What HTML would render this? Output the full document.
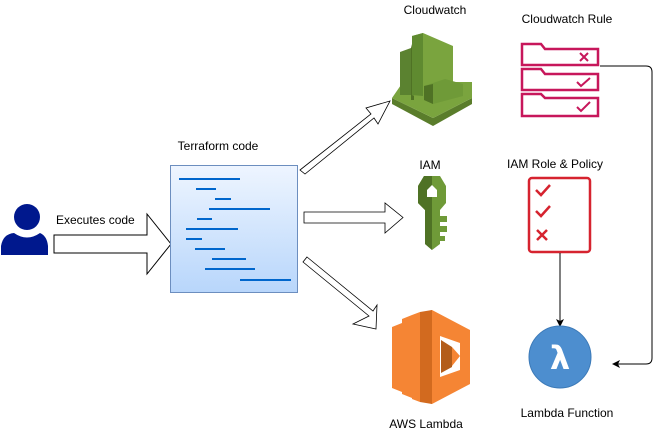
<!DOCTYPE html>
<html><head><style>
body{margin:0;background:#fff;width:659px;height:435px;overflow:hidden}
text{font-family:"Liberation Sans",Arial,sans-serif;font-size:12px;fill:#000}
</style></head><body>
<svg width="659" height="435" viewBox="0 0 659 435" xmlns="http://www.w3.org/2000/svg">
<defs><linearGradient id="tg" x1="0" y1="0" x2="0" y2="1"><stop offset="0" stop-color="#eef5ff"/><stop offset="1" stop-color="#b8d6fb"/></linearGradient></defs>
<text x="435" y="14" text-anchor="middle">Cloudwatch</text>
<text x="567" y="23" text-anchor="middle">Cloudwatch Rule</text>
<text x="218" y="150" text-anchor="middle">Terraform code</text>
<text x="430" y="169" text-anchor="middle">IAM</text>
<text x="555" y="168" text-anchor="middle">IAM Role &amp; Policy</text>
<text x="426" y="428" text-anchor="middle">AWS Lambda</text>
<text x="567" y="417" text-anchor="middle">Lambda Function</text>
<text x="56" y="224">Executes  code</text>
<circle cx="27" cy="217" r="13" fill="#00188d"/>
<path d="M1,255 L1,246 Q3,234 14,233 Q27,242 40,233 Q47,236 48,246 L48,255 Z" fill="#00188d"/>
<path d="M54,235 L147,235 L147,214 L171,244 L147,274 L147,253 L54,253 Z" fill="#fff" stroke="#000" stroke-width="1"/>
<rect x="170.5" y="165.5" width="127" height="127" fill="url(#tg)" stroke="#6c8ebf"/>
<g stroke="#0066cc" stroke-width="2">
<line x1="179" y1="179" x2="240" y2="179"/><line x1="196" y1="189" x2="216" y2="189"/>
<line x1="215" y1="199" x2="231" y2="199"/><line x1="209" y1="209" x2="270" y2="209"/>
<line x1="197" y1="219" x2="212" y2="219"/><line x1="186" y1="229" x2="238" y2="229"/>
<line x1="186" y1="239" x2="202" y2="239"/><line x1="195" y1="249" x2="225" y2="249"/>
<line x1="212" y1="259" x2="246" y2="259"/><line x1="205" y1="269" x2="255" y2="269"/>
<line x1="240" y1="280" x2="291" y2="280"/></g>
<path d="M300,170 L371,114 L366,108 L390,101 L378,124 L374,118 L305,174 Z" fill="#fff" stroke="#000" stroke-width="0.8"/>
<path d="M304,212 L385,212 L385,203 L403,217.5 L385,233 L385,223 L304,223 Z" fill="#fff" stroke="#000" stroke-width="0.8"/>
<path d="M307,257 L373,311 L377,305 L376,329 L353,324 L369,316 L303,262 Z" fill="#fff" stroke="#000" stroke-width="0.8"/>
<g>
<path d="M392,98 L433,118 L472,98 L472,104 L433,126 L392,104 Z" fill="#5a7d2b"/>
<path d="M392,98 L403,82 L472,82 L472,98 L433,118 Z" fill="#7aa43e"/>
<path d="M400,52 L411,48 L411,95 L400,95 Z" fill="#5b8230"/>
<path d="M411,48 L414,36 L414,100 L411,100 Z" fill="#4f7225"/>
<path d="M412,36 L423,33 L453,46 L453,88 L430,102 L412,95 Z" fill="#7aa43e"/>
<path d="M423,33 L423,96 L412,95 L412,36 Z" fill="#5f8a30"/>
<path d="M424,86 L445,79 L463,84 L463,96 L433,104 L424,100 Z" fill="#6f9a38"/>
<path d="M424,86 L433,84 L433,104 L424,100 Z" fill="#4f7225"/>
</g>
<g fill="#6f9a38">
<path d="M418,186 L424,176 L440,176 L446,186 L446,203 L440,210 L440,244 L432,250 L425,244 L425,210 L418,203 Z"/>
<rect x="439" y="216" width="8" height="6"/><rect x="439" y="226" width="8" height="6"/><rect x="439" y="236" width="6" height="5"/>
<path d="M418,186 L424,176 L432,176 L432,250 L425,244 L425,210 L418,203 Z" fill="#4f7225"/>
<path d="M427,190 L432,185 L437,190 L437,197 L427,197 Z" fill="#fff"/>
</g>
<g>
<path d="M392,327 L402,323 L402,392 L392,388 Z" fill="#f58534"/>
<path d="M402,319 L412,315 L412,398 L402,394 Z" fill="#f58534"/>
<path d="M412,315 L420,312 L420,402 L412,399 Z" fill="#f58534"/>
<path d="M418,314 L432,310 L470,330 L470,384 L432,404 L418,400 Z" fill="#f58534"/>
<path d="M420,312 L432,310 L432,404 L420,402 Z" fill="#d26a1f"/>
<path d="M440,336 L460,343 L460,370 L440,377 Z" fill="#fff"/>
<path d="M441,340 L452,347 L452,367 L441,373 Z" fill="#b35d1a"/>
<path d="M452,347 L460,356 L452,366 Z" fill="#f58534"/>
</g>
<g fill="none" stroke="#c7175b" stroke-width="2.5">
<path d="M522,44 L541,44 L545,49 L598,49 L598,65 L522,65 Z"/>
<path d="M522,69 L541,69 L545,74 L598,74 L598,90 L522,90 Z"/>
<path d="M522,94 L541,94 L545,98 L598,98 L598,116 L522,116 Z"/>
<path d="M580,53 L588,61 M588,53 L580,61 M577,82 L581,86 L590,78 M577,107 L581,111 L590,102" stroke-width="2"/>
</g>
<g fill="none" stroke="#d6232f" stroke-width="2.5">
<rect x="529" y="178" width="61" height="74" rx="3"/>
<path d="M536,190 L541,195 L550,185 M536,211 L541,216 L550,206 M537,230 L547,240 M547,230 L537,240"/>
</g>
<path d="M600,66 L646,66 Q652,66 652,72 L652,358 Q652,364 646,364 L617,364" fill="none" stroke="#000" stroke-width="1"/>
<path d="M612,364 L620,360 L618,364 L620,368 Z" fill="#000"/>
<line x1="560" y1="253" x2="560" y2="322" stroke="#000"/>
<path d="M560,327 L556,319 L560,321 L564,319 Z" fill="#000"/>
<circle cx="560" cy="357" r="31" fill="#4d8ecf" stroke="#3c7ab8"/>
<text x="560" y="369" text-anchor="middle" style="font-family:'DejaVu Sans',sans-serif;font-weight:bold;font-size:32px;fill:#fff">λ</text>
</svg>
</body></html>
